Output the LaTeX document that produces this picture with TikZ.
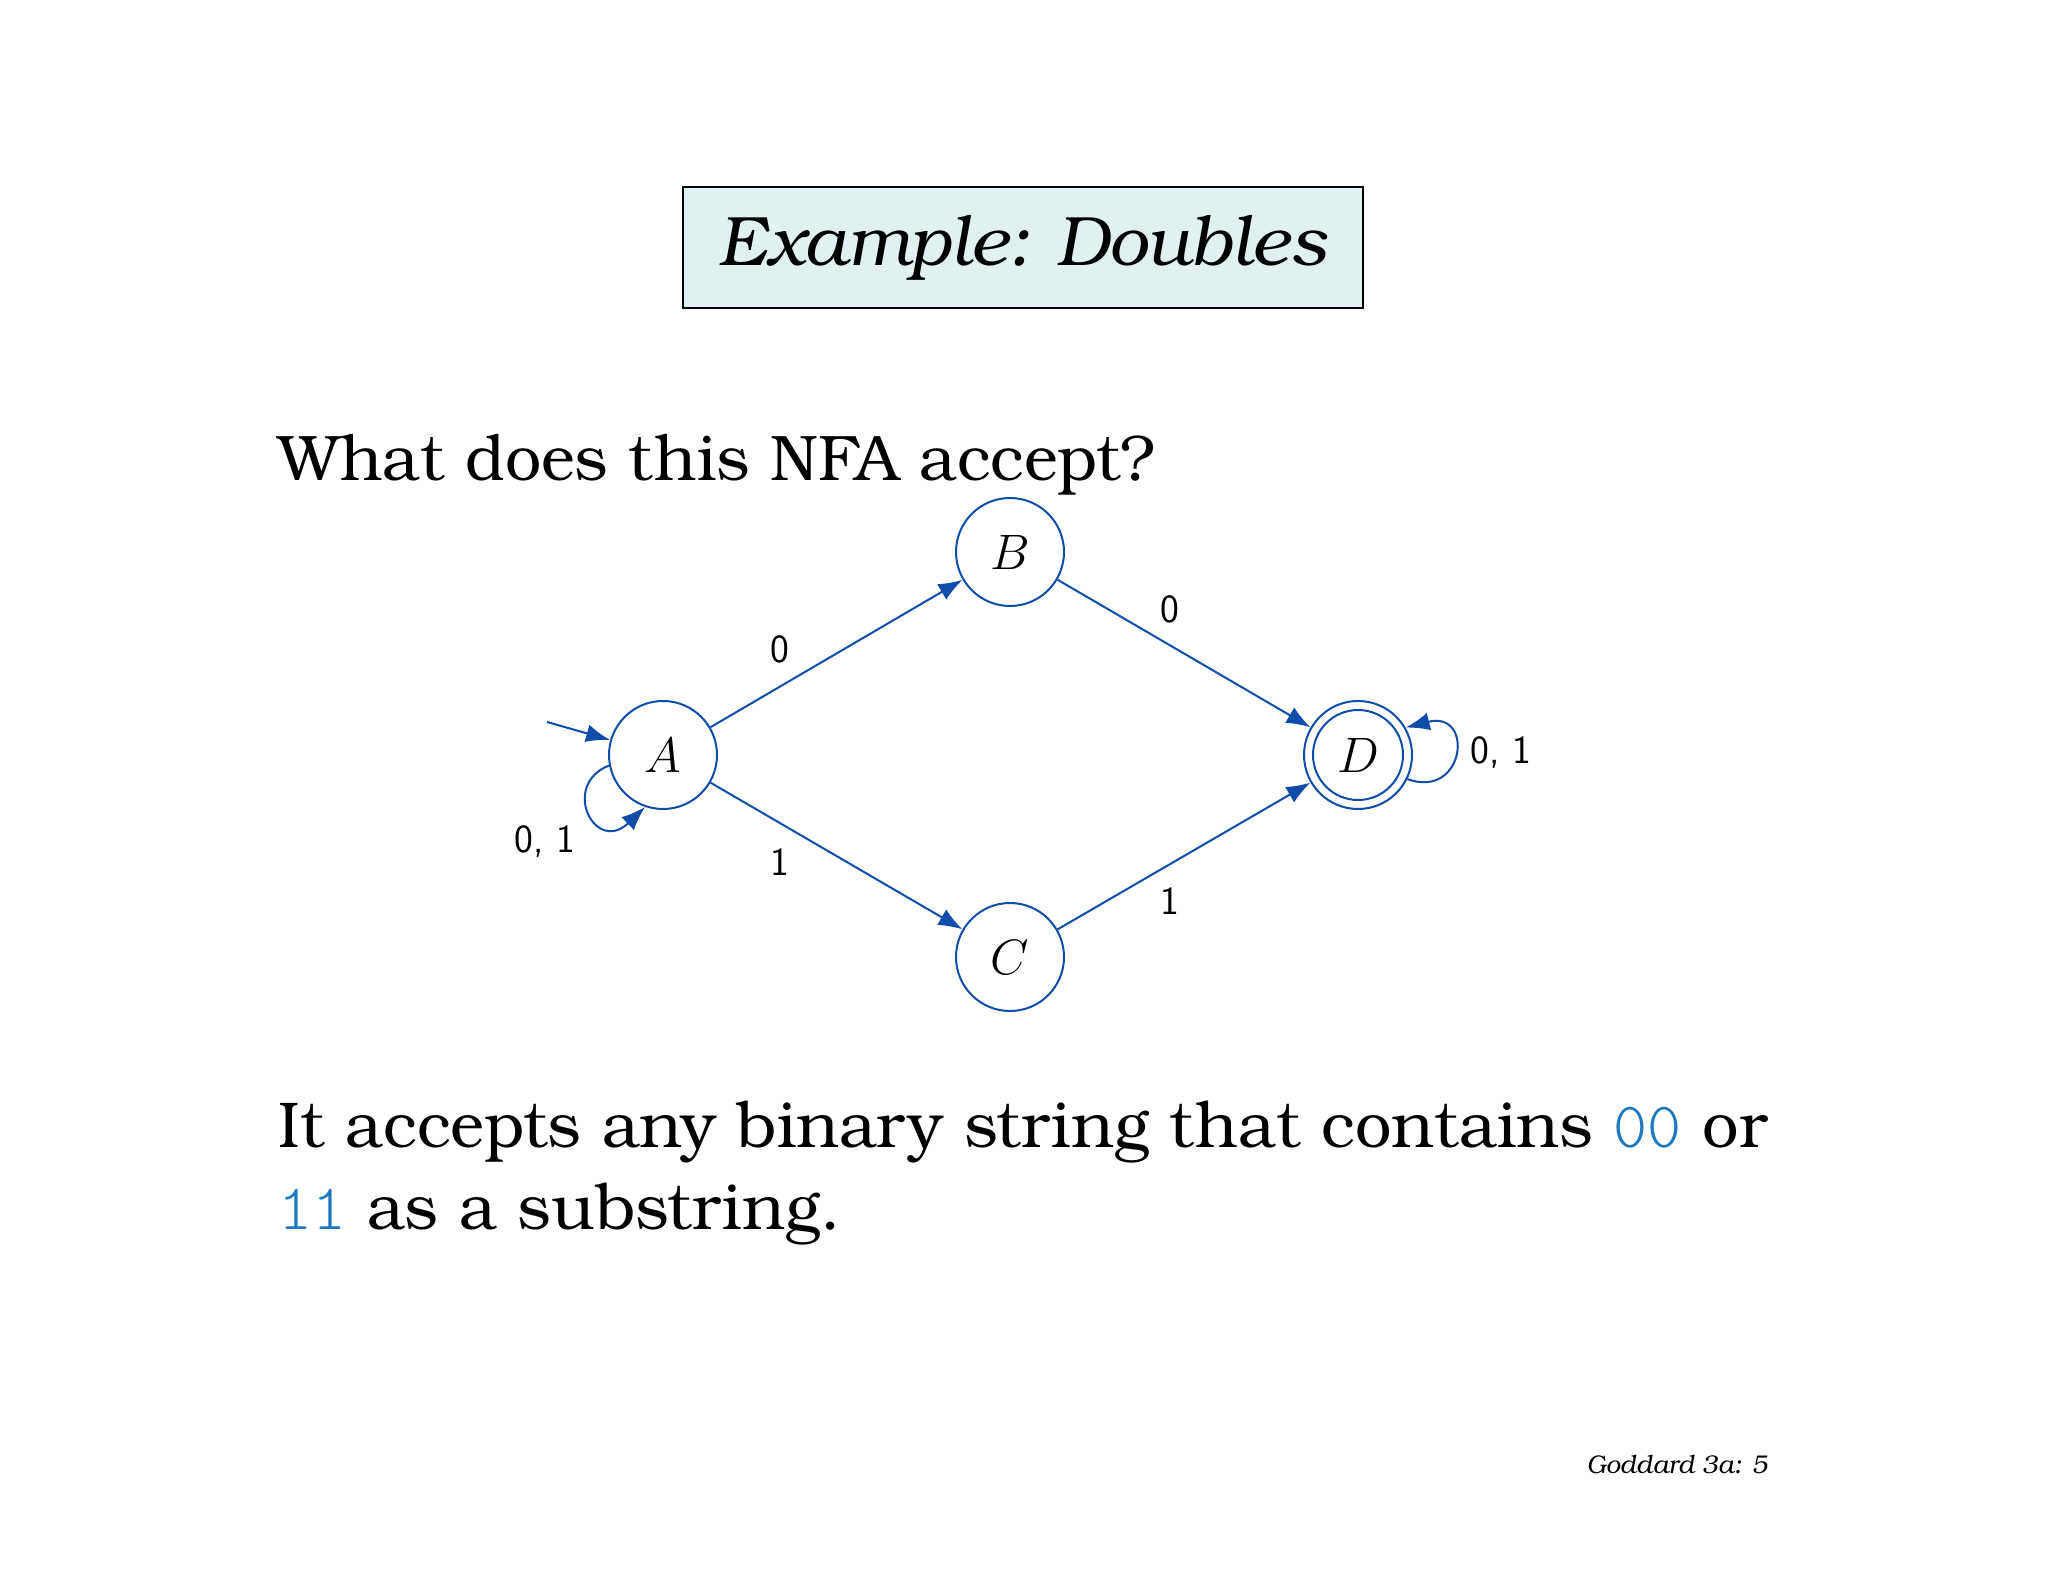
\documentclass[tikz,border=0pt]{standalone}
\usepackage{fontspec}
\setmainfont{texgyrebonum}[Extension=.otf,UprightFont=*-regular,ItalicFont=*-italic,BoldFont=*-bold,BoldItalicFont=*-bolditalic]
\newfontfamily\codefont{lmmonolt10-regular.otf}
\usetikzlibrary{arrows.meta}
\definecolor{nfablue}{RGB}{16,76,170}
\definecolor{titlefill}{RGB}{225,240,240}
\definecolor{codeblue}{RGB}{30,120,190}
\begin{document}
\begin{tikzpicture}[x=0.5pt,y=0.5pt,
  state/.style={circle,draw=nfablue,line width=1pt,minimum size=54pt,inner sep=0pt,font=\fontsize{24}{24}\selectfont},
  edge/.style={draw=nfablue,line width=1pt,-{Latex[length=12pt,width=9pt]}},
  elabel/.style={font=\fontsize{20}{20}\selectfont\sffamily,inner sep=0pt},
  bodytext/.style={anchor=base west,inner sep=0pt,font=\fontsize{32.4}{32.4}\selectfont}]
\path[use as bounding box,fill=white] (0,0) rectangle (2048,-1582);
\node[draw=black,line width=1.2pt,fill=titlefill,minimum width=340pt,minimum height=60.5pt,inner sep=0pt,font=\fontsize{35}{35}\selectfont\itshape] (title) at (1023,-247.5) {Example: Doubles};
\node[bodytext,font=\fontsize{32.2}{32.2}\selectfont] (question) at (278,-481) {What does this NFA accept?};
\node[state] (A) at (663,-755) {$A$};
\node[state] (B) at (1010,-552) {$B$};
\node[state] (C) at (1010,-957) {$C$};
\node[state] (D) at (1358,-755) {$D$};
\node[circle,draw=nfablue,line width=1pt,minimum size=45pt,inner sep=0pt] (Din) at (D.center) {};
\coordinate (start) at (547,-722);
\draw[edge] (start) -- (A);
\draw[edge] (A) -- (B);
\draw[edge] (A) -- (C);
\draw[edge] (B) -- (D);
\draw[edge] (C) -- (D);
\draw[edge] (A.191) .. controls (560,-785) and (595,-855) .. (A.251);
\draw[edge] (D.-26) .. controls (1465,-800) and (1475,-710) .. (D.30);
\node[elabel] (lab) at (780,-649) {0};
\node[elabel] (lbd) at (1170,-609) {0};
\node[elabel] (lac) at (780,-862) {1};
\node[elabel] (lcd) at (1170,-901) {1};
\node[elabel] (laa) at (545,-842) {0, 1};
\node[elabel] (ldd) at (1501,-753) {0, 1};
\node[bodytext] (ans1) at (278,-1147) {It accepts any binary string that contains {\color{codeblue}\codefont 00} or};
\node[bodytext] (ans2) at (278,-1229) {{\color{codeblue}\codefont 11} as a substring.};
\node[anchor=base east,inner sep=0pt,font=\fontsize{12.8}{12.8}\selectfont\itshape] (footer) at (1768,-1473) {Goddard 3a: 5};
\end{tikzpicture}
\end{document}
